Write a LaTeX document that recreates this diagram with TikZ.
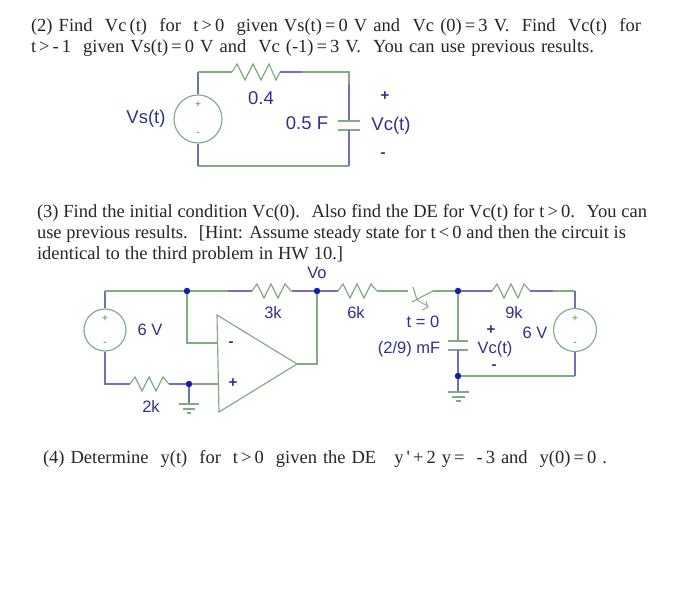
\documentclass[tikz,border=0pt]{standalone}
\usepackage{fontspec}
\setmainfont{Liberation Serif}
\newfontfamily\plainserif{Liberation Serif}
\newfontfamily\labelfont{Liberation Sans}
\definecolor{wire}{RGB}{128,172,130}
\definecolor{lead}{RGB}{112,112,178}
\definecolor{lab}{RGB}{48,48,145}
\definecolor{dot}{RGB}{16,32,170}
\newcommand{\txt}[4]{\node[para] (#1) at (#2) {\makebox[#3pt][s]{#4}};}
\tikzset{
  para/.style={anchor=base west,inner sep=0,outer sep=0,text=black!85,font=\fontsize{18.5}{20}\selectfont},
  w/.style={draw=wire,line width=1.15pt},
  ld/.style={draw=lead,line width=1.15pt},
  lbl/.style={inner sep=0,text=lab,font=\labelfont\fontsize{16.5}{18}\selectfont},
  lblb/.style={inner sep=0,text=lab,font=\labelfont\fontsize{18.5}{20}\selectfont},
  pm/.style={inner sep=0,text=lab,font=\labelfont\bfseries\fontsize{15}{16}\selectfont},
  tiny/.style={inner sep=0,text=wire,font=\labelfont\bfseries\fontsize{10}{10}\selectfont},
  src/.style={circle,draw=wire,line width=1.15pt,minimum size=#1,inner sep=0},
  jn/.style={circle,fill=dot,minimum size=6.5pt,inner sep=0},
}
\begin{document}
\begin{tikzpicture}[x=1pt,y=-1pt]
\useasboundingbox (0,0) rectangle (700,601);
\fill[white] (0,0) rectangle (700,601);
% text
\txt{a}{31,31.5}{610}{(2) Find ~Vc\,(t) ~for ~t\,>\,0 ~given Vs(t)\,=\,0 V and ~Vc (0)\,=\,3 V. ~Find ~Vc(t) ~for}
\txt{b}{31,52.5}{563}{t\,>\,-\,1 ~given Vs(t)\,=\,0 V and ~Vc (-1)\,=\,3 V. ~You can use previous results.}
\txt{c}{37,217.5}{610}{(3) Find the initial condition Vc(0). ~Also find the DE for Vc(t) for t\,>\,0. ~You can}
\txt{d}{37,238.5}{589}{use previous results. ~[Hint: Assume steady state for t\,<\,0 and then the circuit is}
\txt{e}{37,259.5}{306}{identical to the third problem in HW 10.]}
\txt{f}{43,463}{564}{(4) Determine ~y(t) ~for ~t\,>\,0 ~given the DE ~~y\,{\plainserif '}\,+\,2 y\,= ~-\,3 and ~y(0)\,=\,0 .}

% ---- circuit (2)
\node[src=48pt] (s1) at (198,119) {};
\node[tiny] at (198,105) {+};
\node[tiny] at (198,134) {-};
\coordinate (tl) at (198,72); \coordinate (rl) at (232,72); \coordinate (rr) at (280,72);
\coordinate (tr) at (349,72); \coordinate (cu) at (349,121); \coordinate (cd) at (349,130);
\coordinate (br) at (349,166); \coordinate (bl) at (198,166);
\draw[ld] (s1.north) -- (tl);
\draw[w] (tl) -- (rl);
\draw[w] (rl) -- ++(5,-8) -- ++(8,16) -- ++(8,-16) -- ++(8,16) -- ++(8,-16) -- ++(7,16) -- (rr);
\draw[ld] (rr) -- ++(22,0);
\draw[w] (302,72) -- (tr) -- ++(0,12);
\draw[ld] (349,84) -- (cu);
\draw[w] (338,121) -- (360,121) (338,130) -- (360,130);
\draw[ld] (cd) -- ++(0,10);
\draw[ld] (349,140) -- (br);
\draw[w] (br) -- (bl);
\draw[ld] (bl) -- (s1.south);
\node[lblb] at (146,119) {Vs(t)};
\node[lblb] at (261,98) {0.4};
\node[lblb] at (307,123) {0.5 F};
\node[lblb] at (391,126) {Vc(t)};
\node[pm] at (385,96) {+};
\node[pm] at (383,155) {-};

% ---- circuit (3) left
\node[src=42pt] (s2) at (105,330) {};
\node[tiny] at (105,319) {+};
\node[tiny] at (105,344) {-};
\node[jn] (n1) at (187,291) {};
\node[jn] (vo) at (317,291) {};
\node[jn] (n2) at (189,384) {};
\coordinate (st) at (105,291); \coordinate (sb) at (105,384);
\coordinate (r2a) at (130,384); \coordinate (r2b) at (169,384);
\coordinate (r3a) at (252,291); \coordinate (r3b) at (292,291);
\coordinate (opT) at (217,315); \coordinate (opB) at (219,412); \coordinate (opO) at (297,364);
\coordinate (opM) at (217,343); \coordinate (opP) at (218,384);
\draw[ld] (s2.north) -- (st);
\draw[w] (st) -- (n1);
\draw[w] (n1) -- (228,291);
\draw[ld] (228,291) -- (r3a);
\draw[w] (r3a) -- ++(5,-7) -- ++(7,14) -- ++(7,-14) -- ++(7,14) -- ++(7,-14) -- ++(6,7) -- (r3b);
\draw[ld] (r3b) -- (vo);
\draw[w] (n1) -- (187,343) -- (opM);
\draw[w] (opT) -- (opO) -- (opB) -- cycle;
\draw[w] (opO) -- (317,364) -- (vo);
\draw[ld] (s2.south) -- (sb) -- (r2a);
\draw[w] (r2a) -- ++(5,-7) -- ++(7,14) -- ++(7,-14) -- ++(7,14) -- ++(7,-14) -- ++(6,7) -- (r2b);
\draw[ld] (r2b) -- (n2);
\draw[w] (n2) -- (opP);
\draw[ld] (n2) -- (189,404);
\draw[w] (179,404) -- (199,404);
\draw[w] (183,409) -- (195,409);
\draw[w] (187,413) -- (191,413);
\node[lbl] at (150,330) {6 V};
\node[lbl] at (317,273) {Vo};
\node[lbl] at (273,313) {3k};
\node[lbl] at (151,407) {2k};
\node[pm] at (231,344) {-};
\node[pm] at (233,383) {+};

% ---- circuit (3) right
\node[jn] (n3) at (458,291) {};
\node[jn] (n4) at (458,376) {};
\node[src=43pt] (s3) at (575,330) {};
\node[tiny] at (575,319) {+};
\node[tiny] at (575,344) {-};
\coordinate (r6a) at (338,291); \coordinate (r6b) at (378,291);
\coordinate (swa) at (408,291); \coordinate (swb) at (433,291);
\coordinate (r9a) at (492,291); \coordinate (r9b) at (530,291);
\coordinate (str) at (575,291); \coordinate (sbr) at (575,376);
\draw[ld] (vo) -- (r6a);
\draw[w] (r6a) -- ++(5,-7) -- ++(7,14) -- ++(7,-14) -- ++(7,14) -- ++(7,-14) -- ++(6,7) -- (r6b);
\draw[w] (r6b) -- (swa);
\draw[w] (413,287) -- (417,300);
\draw[w] (412,302) -- (swb);
\draw[w] (swb) -- (n3);
\draw[w,line width=.9pt] (417,300) .. controls (422,303) and (426,305) .. (428,306);
\draw[w,line width=.9pt] (422,310) -- (428,307) -- (426,301);
\draw[ld] (n3) -- (r9a);
\draw[w] (r9a) -- ++(5,-7) -- ++(7,14) -- ++(7,-14) -- ++(7,14) -- ++(6,-14) -- ++(6,7) -- (r9b);
\draw[ld] (r9b) -- (553,291);
\draw[w] (553,291) -- (str);
\draw[ld] (str) -- (s3.north);
\draw[w] (n3) -- (458,341);
\draw[w] (448,341) -- (468,341) (448,350) -- (468,350);
\draw[ld] (458,350) -- (n4);
\draw[w] (n4) -- (sbr);
\draw[ld] (sbr) -- (s3.south);
\draw[ld] (n4) -- (458,392);
\draw[w] (448,392) -- (469,392);
\draw[w] (452,397) -- (465,397);
\draw[w] (456,401) -- (461,401);
\node[lbl] at (423,322) {t = 0};
\node[lbl] at (409,349) {(2/9) mF};
\node[lbl] at (495,349) {Vc(t)};
\node[lbl] at (535,333) {6 V};
\node[lbl] at (514,313) {9k};
\node[lbl] at (356,313) {6k};
\node[pm] at (491,330) {+};
\node[pm] at (494,367) {-};
\end{tikzpicture}
\end{document}
